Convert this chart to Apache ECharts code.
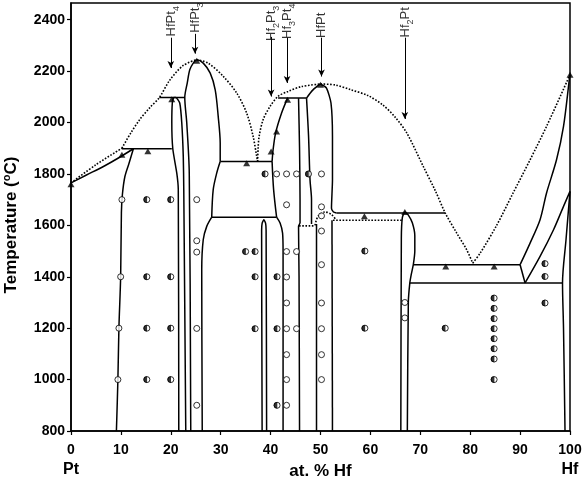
<!DOCTYPE html>
<html><head><meta charset="utf-8">
<script src="https://cdn.jsdelivr.net/npm/echarts@6/dist/echarts.min.js"></script>
<style>html,body{margin:0;padding:0;background:#fff}#c{width:584px;height:485px}</style>
</head><body><div id="c"></div>
<script>
// ---- axis ticks ----
const xTicks = [0,10,20,30,40,50,60,70,80,90,100];
const yTicks = [800,1000,1200,1400,1600,1800,2000,2200,2400];

// ---- liquidus (dotted) curves [at.% Hf, T] ----
const liqPt      = [[0,1765],[5,1836],[10.2,1900]];
const liqPtHfPt3 = [[10.2,1900],[12,1960],[13.8,2012],[15.8,2058],[17.7,2097],[19.8,2165],[22.5,2222],[25.2,2245]];
const liqHfPt3R  = [[25.2,2245],[27.5,2231],[30.5,2180],[33.2,2115],[35.2,2037],[36.5,1946],[37.2,1870],[37.4,1848]];
const liqToHfPt  = [[37.4,1848],[37.5,1900],[37.7,1946],[38.5,2011],[39.9,2063],[41.5,2102],[43.5,2121],[46.2,2140],[50,2150]];
const liqHfPtR   = [[50,2150],[53,2146],[56,2128],[59.5,2105],[62.5,2068],[65,2020],[67.3,1959],[70.6,1829],[73,1735],[75,1648],[77.3,1570],[79.3,1505],[80.5,1453]];
const liqHf      = [[80.5,1453],[82,1492],[85.3,1600],[88.6,1726],[92,1855],[95.3,1985],[100,2186]];
const dot1620    = [[52.5,1620],[66.3,1620]];
const dotArc     = [[48.9,1600],[49.5,1635],[50.9,1652],[52.2,1642],[53.1,1622]];
const dot1598    = [[45.7,1598],[48.9,1598]];

// ---- solid phase boundaries ----
const solPt      = [[0,1765],[3,1795],[6.5,1829],[9.5,1862],[12.5,1898]];
const solvPt     = [[12.5,1898],[11.6,1840],[10.8,1790],[10.3,1720],[10.1,1650],[9.95,1400],[9.6,1200],[9.4,1000],[9.1,800]];
const iso1898    = [[10.2,1898],[20.2,1898]];
const iso2097    = [[17.7,2097],[22.8,2097]];
const hfpt4      = [[21.6,800],[21.5,1740],[21.2,1803],[20.4,1898],[20.2,2000],[20.3,2075],[20.6,2097],[21.0,2097],[21.8,2075],[22.2,1998],[22.5,1868],[22.6,1739],[23.0,800]];
const hfpt3Up    = [[24.0,800],[23.7,1803],[23.2,1998],[22.8,2097],[23.3,2154],[23.8,2205],[24.5,2231],[25.2,2244],[26.5,2231],[27.9,2192],[28.9,2127],[29.5,2024],[29.9,1920],[29.9,1848]];
const hfpt3Mid   = [[29.9,1848],[29.2,1803],[28.5,1739],[28.2,1632]];
const hfpt3Low   = [[28.2,1632],[27.2,1596],[26.5,1544],[26.2,1427],[26.3,800]];
const iso1848    = [[29.9,1848],[40.3,1848]];
const iso1632    = [[28.2,1632],[41.2,1632]];
const hf2pt3Liq  = [[40.3,1848],[40.5,1894],[41,1959],[42.2,2037],[43.4,2095]];
const hf2pt3Up   = [[40.3,1848],[40.6,1740],[41.2,1632]];
const hf2pt3Low  = [[41.2,1632],[41.9,1609],[42.4,1570],[42.5,1500],[42.5,800]];
const thinPhase  = [[38.3,800],[38.2,1580],[38.3,1608],[38.65,1622],[39.0,1608],[39.1,1580],[39.2,800]];
const iso2095    = [[41.5,2095],[47.2,2095]];
const hf3pt4R    = [[45.6,2095],[45.8,1900],[45.9,1700],[45.9,1610],[45.6,1596],[45.7,1400],[45.8,800]];
const hfptLUp    = [[47.2,2095],[47.6,1950],[47.9,1777],[48.2,1700],[48.2,1605]];
const hfptPeakL  = [[47.2,2095],[48.5,2127],[50,2150]];
const hfptRUp    = [[50,2150],[51.2,2134],[52.1,2076],[52.4,1946],[52.4,1777],[52.2,1667],[52.6,1652],[53.2,1648]];
const iso1648    = [[53.2,1648],[75,1648]];
const hfptLLow   = [[49.2,1605],[49.2,800]];
const hfptRLow   = [[52.3,1620],[52.4,800]];
const hf2pt      = [[66.1,800],[66.2,1550],[66.4,1630],[66.9,1652],[67.6,1640],[68.4,1610],[68.9,1560],[68.9,1500],[68.6,1447],[68.2,1410],[67.9,1376],[67.6,1300],[67.4,800]];
const iso1447    = [[68.6,1447],[90,1447]];
const iso1376    = [[67.9,1376],[98.5,1376]];
const solHf      = [[90,1447],[92,1531],[94,1622],[95.3,1726],[97.3,1855],[98.7,1985],[99.9,2173],[100,2186]];
const diagHf     = [[90,1447],[91,1376]];
const betaAlpha  = [[91,1376],[94,1479],[96.7,1583],[98.7,1674],[100,1732]];
const alphaHf    = [[100,1732],[99.2,1544],[98.5,1376],[98.7,1200],[99,800]];

// ---- experimental points ----
const triPts  = [[0,1760],[10.2,1875],[15.4,1888],[20.2,2091],[25.2,2240],[35.2,1842],[40.1,1887],[41.2,1965],[43.4,2089],[50,2147],[58.8,1635],[66.9,1652],[75.1,1440],[84.8,1440],[100,2186]];
const openPts = [[10.2,1700],[9.95,1400],[9.6,1200],[9.4,1000],
  [25.2,1700],[25.2,1540],[25.2,1496],[25.2,1199],[25.2,900],
  [41.2,1800],[43.2,1800],[45.2,1800],[50.2,1800],
  [43.2,1680],[43.2,1498],[43.2,1399],[43.2,1298],[43.2,1198],[43.2,1097],[43.2,1000],[43.2,900],
  [45.2,1498],[45.2,1198],
  [50.2,1672],[50.2,1637],[50.2,1578],[50.2,1447],[50.2,1298],[50.2,1198],[50.2,1097],[50.2,1000],
  [66.9,1300],[66.9,1240]];
const halfPts = [[15.2,1700],[20,1700],[15.2,1400],[20,1400],[15.2,1200],[20,1200],[15.2,1000],[20,1000],
  [38.9,1800],[47.6,1800],
  [35,1498],[36.9,1498],[36.9,1400],[36.9,1198],
  [41.3,1400],[41.3,1198],[41.3,900],
  [58.9,1500],[58.9,1200],[75,1200],
  [84.8,1317],[84.8,1277],[84.8,1237],[84.8,1198],[84.8,1159],[84.8,1120],[84.8,1080],[84.8,1000],
  [95,1451],[95,1401],[95,1298]];

// ---- compound labels with arrows ----
const compNames = ['HfPt4','HfPt3','Hf2Pt3','Hf3Pt4','HfPt','Hf2Pt'];
const compX     = [20.0, 24.85, 40.1, 43.3, 50.2, 66.9];
const labelT    = [2394, 2408, 2386, 2394, 2378, 2390];
const arrowFrom = [2330, 2345, 2333, 2330, 2330, 2330];
const arrowTo   = [2212, 2268, 2101, 2154, 2179, 2014];

const FONT = '"Liberation Sans", Arial, Helvetica, sans-serif';
function solid(data, smooth){
  return {type:'line', data, symbol:'none', smooth: smooth===undefined?0.3:smooth, silent:true, z:3,
    lineStyle:{color:'#000', width:1.5}};
}
function dotted(data, smooth){
  return {type:'line', data, symbol:'none', smooth: smooth===undefined?0.3:smooth, silent:true, z:3,
    lineStyle:{color:'#000', width:1.6, type:[1.6,1.6]}};
}
function toRich(s){
  return s.replace(/([A-Za-z]+)|(\d+)/g, (m,a,b)=> a ? '{n|'+a+'}' : '{s|'+b+'}');
}

const series = [
  dotted(liqPt), dotted(liqPtHfPt3), dotted(liqHfPt3R), dotted(liqToHfPt), dotted(liqHfPtR), dotted(liqHf),
  dotted(dot1620,false), dotted(dotArc), dotted(dot1598,false),
  solid(solPt), solid(solvPt), solid(iso1898,false), solid(iso2097,false), solid(hfpt4,0.2),
  solid(hfpt3Up), solid(hfpt3Mid), solid(hfpt3Low), solid(iso1848,false), solid(iso1632,false),
  solid(hf2pt3Liq), solid(hf2pt3Up), solid(hf2pt3Low), solid(thinPhase,0.2), solid(iso2095,false),
  solid(hf3pt4R,0.2), solid(hfptLUp), solid(hfptPeakL), solid(hfptRUp,0.2), solid(iso1648,false),
  solid(hfptLLow,false), solid(hfptRLow,false), solid(hf2pt,0.2), solid(iso1447,false), solid(iso1376,false),
  solid(solHf), solid(diagHf,false), solid(betaAlpha), solid(alphaHf),
  {type:'scatter', data: triPts, symbol:'triangle', symbolSize:[7,6], z:6, silent:true,
    itemStyle:{color:'#000'}},
  {type:'scatter', data: openPts, symbol:'circle', symbolSize:6, z:6, silent:true,
    itemStyle:{color:'#fff', borderColor:'#000', borderWidth:1}},
  {type:'scatter', data: halfPts, symbol:'circle', symbolSize:6, z:6, silent:true,
    itemStyle:{color:'#fff', borderColor:'#000', borderWidth:1}},
  {type:'scatter', data: halfPts, symbol:'path://M10,0 A10,10 0 0,0 10,20 Z', symbolKeepAspect:false,
    symbolSize:[3.6,6.6], symbolOffset:[-1.6,0], z:7, silent:true, itemStyle:{color:'#000'}},
  {type:'scatter', z:8, silent:true, symbolSize:1, itemStyle:{color:'rgba(0,0,0,0)'},
    data: compNames.map((n,i)=>[compX[i]+0.35, labelT[i], n]),
    label:{show:true, position:'inside', rotate:90, color:'#000',
      formatter: p => toRich(p.data[2]),
      rich:{n:{fontSize:13, fontFamily:FONT, color:'#000', lineHeight:16, verticalAlign:'top'},
            s:{fontSize:9, fontFamily:FONT, color:'#000', lineHeight:16, verticalAlign:'bottom'}}},
    markLine:{silent:true, symbol:['none','arrow'], symbolSize:[5,7], animation:false,
      label:{show:false}, lineStyle:{color:'#000', width:1, type:'solid'},
      data: compNames.map((n,i)=>[{coord:[compX[i], arrowFrom[i]]},{coord:[compX[i], arrowTo[i]]}])}}
];

const chart = echarts.init(document.getElementById('c'), null, {renderer:'canvas'});
chart.setOption({
  animation:false,
  backgroundColor:'#fff',
  grid:{left:71, right:14, top:3, bottom:54, show:true, borderColor:'#000', borderWidth:1.5,
    containLabel:false, outerBoundsMode:'none'},
  xAxis:{type:'value', min:xTicks[0], max:xTicks[xTicks.length-1], interval:10,
    name:'at. % Hf', nameLocation:'middle', nameGap:32, nameMoveOverlap:false,
    nameTextStyle:{fontSize:17, fontWeight:'bold', fontFamily:FONT, color:'#000'},
    axisLine:{lineStyle:{color:'#000', width:1.5}},
    axisTick:{show:true, length:4, lineStyle:{color:'#000', width:1.2}},
    splitLine:{show:false},
    axisLabel:{margin:10, color:'#000',
      formatter: v => v===0 ? '{v|0}\n{e|Pt}' : (v===100 ? '{v|100}\n{e|Hf}' : '{v|'+v+'}'),
      rich:{v:{fontSize:14, fontWeight:'bold', fontFamily:FONT, color:'#000', lineHeight:19},
            e:{fontSize:16, fontWeight:'bold', fontFamily:FONT, color:'#000', lineHeight:19}}}},
  yAxis:{type:'value', min:yTicks[0], max:2465, interval:200,
    name:'Temperature ({sup|o}C)', nameLocation:'middle', nameGap:50, nameMoveOverlap:false,
    nameTextStyle:{fontSize:17, fontWeight:'bold', fontFamily:FONT, color:'#000', padding:[0,16,0,0],
      rich:{sup:{fontSize:11, fontWeight:'bold', fontFamily:FONT, color:'#000', verticalAlign:'top', lineHeight:20}}},
    axisLine:{lineStyle:{color:'#000', width:1.5}},
    axisTick:{show:true, length:4, lineStyle:{color:'#000', width:1.2}},
    splitLine:{show:false},
    axisLabel:{margin:6, color:'#000', fontSize:14, fontWeight:'bold', fontFamily:FONT, showMaxLabel:false,
      formatter: v => String(v)}},
  series
});
</script></body></html>
